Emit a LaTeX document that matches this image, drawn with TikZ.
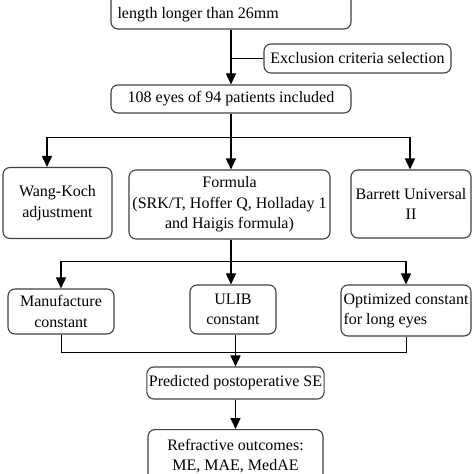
\documentclass[tikz,border=0pt]{standalone}
\usepackage{fontspec}
\setmainfont{Liberation Serif}
\usepackage{tikz}
\usetikzlibrary{arrows.meta, positioning}
\tikzstyle{box} = [
    draw=black!75,
    line width=1.1pt,
    rounded corners=7pt,
    align=center,
    inner sep=2pt,
    font=\fontsize{16}{20.5}\selectfont
]
\tikzstyle{arrow} = [
    line width=1.6pt,
    -{Triangle[width=10pt,length=11pt]}
]
\tikzstyle{link} = [
    line width=1pt
]

\begin{document}
\begin{tikzpicture}[x=1pt,y=-1pt]
\useasboundingbox (0,0) rectangle (474,474);

% first steps
\node[box, minimum width=240pt, minimum height=52pt] (top) at (231,3) {};
\node[anchor=base west, font=\fontsize{16}{20.5}\selectfont] (toptxt) at (114,18.5) {length longer than 26mm};
\node[box, minimum width=187pt, minimum height=29pt] (excl) at (357.5,58.5) {Exclusion criteria selection};
\node[box, minimum width=240pt, minimum height=28pt] (incl) at (231,99) {108 eyes of 94 patients included};

\draw[arrow] (top.south) -- (incl.north);
\draw[link] (excl.west) -- (excl.west -| top.south);

% methods
\node[box, minimum width=109pt, minimum height=71pt] (wk) at (57.5,203) {Wang-Koch\\adjustment};
\node[box, minimum width=201pt, minimum height=69pt] (form) at (229.5,204.5) {Formula\\(SRK/T, Hoffer Q, Holladay 1\\and Haigis formula)};
\node[box, minimum width=120pt, minimum height=68pt] (barr) at (411,204) {Barrett Universal\\II};

\coordinate (j1) at (231,137);
\coordinate (wkin) at (47,137);
\coordinate (barrin) at (410,137);
\draw[link] (wkin) -- (barrin);
\draw[link, line width=1.6pt] (incl.south) -- (j1);
\draw[arrow] (j1) -- (j1 |- form.north);
\draw[arrow] (wkin) -- (wkin |- wk.north);
\draw[arrow] (barrin) -- (barrin |- barr.north);

% constants
\node[box, minimum width=106pt, minimum height=45pt] (manu) at (61,311.5) {Manufacture\\constant};
\node[box, minimum width=86pt, minimum height=49pt] (ulib) at (233,309.5) {ULIB\\constant};
\node[box, minimum width=130pt, minimum height=51pt, align=left] (opt) at (406,310.5) {Optimized constant\\for long eyes};

\coordinate (j2) at (231,261);
\coordinate (manuin) at (61,261);
\coordinate (optin) at (406,261);
\draw[link] (manuin) -- (optin);
\draw[link, line width=1.6pt] (j1 |- form.south) -- (j2);
\draw[arrow] (j2) -- (j2 |- ulib.north);
\draw[arrow] (manuin) -- (manu.north);
\draw[arrow] (optin) -- (opt.north);

% outcomes
\node[box, minimum width=175pt, minimum height=32pt] (pred) at (235.5,383) {Predicted postoperative SE};
\node[box, minimum width=175pt, minimum height=53pt, anchor=north] (refr) at (235.5,429) {Refractive outcomes:\\ME, MAE, MedAE};

\coordinate (j3) at (235.5,352);
\draw[link] (manu.south) -- (manu.south |- j3) -- (opt.south |- j3) -- (opt.south);
\draw[arrow] (j3 |- ulib.south) -- (pred.north);
\draw[arrow] (pred.south) -- (refr.north);

\end{tikzpicture}
\end{document}
